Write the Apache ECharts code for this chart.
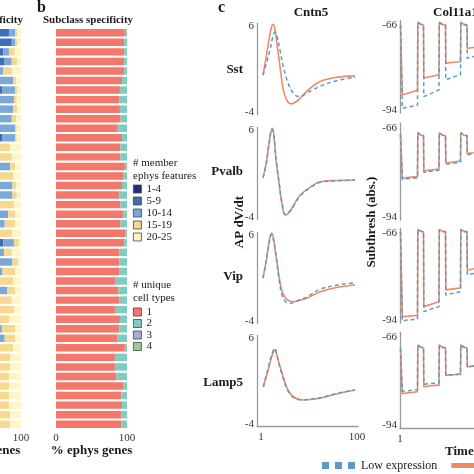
<!DOCTYPE html>
<html>
<head>
<meta charset="utf-8">
<script src="https://cdn.jsdelivr.net/npm/echarts@6/dist/echarts.min.js"></script>
<style>html,body{margin:0;padding:0;background:#fff}#chart{width:474px;height:474px}</style>
</head>
<body>
<div id="chart"></div>
<script>
// genes (rows of panels a and b)
var genes = ['1','2','3','4','5','6','7','8','9','10','11','12','13','14','15','16','17','18','19','20','21',
  '22','23','24','25','26','27','28','29','30','31','32','33','34','35','36','37','38','39','40','41','42'];

// panel a: % of ephys genes per "# member ephys features" bin
var feat1to4 = [5,6,10,15,10,10,10,10,10,10,10,10,5,5,5,5,5,5,5,5,5,5,10,5,5,5,5,5,5,5,5,5,5,5,5,5,5,5,5,5,5,5];
var feat5to9 = [78,81,65,62,30,40,64,45,40,40,40,64,25,25,30,25,30,30,25,30,30,25,65,30,35,30,25,30,25,25,25,30,30,25,25,25,25,25,25,25,25,25];
var feat10to14 = [9,5,8,10,35,39,17.5,35,39,37,41.5,17.5,30,30,49.5,30,53,53,30,47,42,30,15,41,48,39,30,46,30,30,30,38,42,30,30,30,30,30,30,30,30,30];
var feat15to19 = [3,3,8,7.5,12.7,4,3,4,5.5,6,2.5,2.5,24.5,27,7,29,5,6,30,9.5,14.5,28,7,11,8,17.5,29,10.5,27,30,23.5,18.5,14.5,29,24.5,24.5,23.5,23.5,23.5,23.5,24.5,24.5];
var feat20to25 = [5,5,9,5.5,12.3,7,5.5,6,5.5,7,6,6,15.5,13,8.5,11,7,6,10,8.5,8.5,12,3,13,4,8.5,11,8.5,13,10,16.5,8.5,8.5,11,15.5,15.5,16.5,16.5,16.5,16.5,15.5,15.5];

// panel b: % of ephys genes per "# unique cell types"
var type1 = [97,96,96,96,96,93,90,89,90,91,86,93,91,91,97,95,93,89,91,95,91,98,96,89,89,89,83,88,89,83,90,89,86,97,83,83,85,95,92,93,92,92];
var type2 = [3,4,4,4,4,7,10,11,10,9,14,7,9,9,3,5,7,11,9,5,9,2,4,11,11,11,17,12,11,17,10,11,14,3,17,17,15,5,8,7,8,8];
var type3 = [];
var type4 = [];

// panel c, Cntn5: AP dV/dt waveforms [time, value]
var apSstHigh = [[3.2,0.3],[6.5,2.4],[9.5,4.5],[12,5.9],[13.5,6.2],[15.5,5.6],[18,3.5],[20.7,1.3],[24,-1.4],[27.6,-2.6],[31.7,-3.05],[36,-2.9],[41.3,-2.4],[51.6,-1.25],[62,-0.45],[79,0.03],[98,0.2]];
var apSstLow = [[3.2,0.3],[7,1.8],[10.4,3.2],[13,4.6],[15.5,5.3],[17.5,4.8],[20.7,3.2],[24,1.3],[29.2,-0.7],[34.4,-1.8],[39.5,-2.2],[44,-2.1],[48.2,-1.8],[55,-1.4],[62,-1.0],[79,-0.36],[98,0.03]];
var apPvalbHigh = [[3.2,0.5],[6.5,2.2],[9.5,4.6],[11.5,5.9],[12.8,6.2],[14.5,5.3],[16.6,2.6],[19.6,0],[22.7,-2.5],[26.4,-3.8],[31,-3.3],[36,-2.4],[41.3,-1.5],[51.6,-0.6],[62,0.05],[79,0.2],[98,0.25]];
var apPvalbLow = [[3.2,0.5],[6.5,2.1],[9.5,4.5],[11.5,5.8],[12.8,6.1],[14.5,5.2],[16.6,2.7],[19.6,0.1],[22.7,-2.3],[26.4,-3.7],[31,-3.35],[36,-2.5],[41.3,-1.6],[51.6,-0.65],[62,0],[79,0.15],[98,0.25]];
var apVipHigh = [[3.2,1.0],[6.5,3.0],[9.5,5.2],[11,6.0],[12.2,6.2],[14,5.6],[17.3,3.1],[20,1.0],[22.4,-0.4],[26,-1.3],[30,-1.65],[34.4,-1.76],[40,-1.6],[48.2,-1.36],[62,-0.6],[79,-0.1],[98,0.19]];
var apVipLow = [[3.2,1.0],[6.5,3.0],[9.5,5.1],[11,5.9],[12.2,6.1],[14,5.4],[17.3,2.9],[20,0.6],[22.4,-0.8],[26,-1.7],[31,-1.94],[36,-1.8],[42,-1.5],[48.2,-1.2],[62,-0.3],[79,0.15],[98,0.45]];
var apLamp5High = [[3.5,0.34],[6,1.3],[8.6,2.3],[11.5,3.6],[14,4.4],[15.5,4.6],[17,4.2],[18.9,3.4],[21.5,2.4],[24,1.5],[27.6,0.27],[31,-0.4],[34.4,-0.83],[39,-1.1],[44.7,-1.2],[52,-1.15],[62,-1.0],[79,-0.5],[98,-0.05]];
var apLamp5Low = [[3.5,0.3],[6,1.4],[8.6,2.5],[11.5,3.8],[14,4.6],[15.5,4.8],[17,4.3],[18.9,3.3],[21.5,2.2],[24,1.3],[27.6,0.1],[31,-0.5],[34.4,-0.9],[39,-1.15],[44.7,-1.2],[52,-1.1],[62,-0.95],[79,-0.45],[98,-0.05]];

// panel c, Col11a1: subthreshold responses [time, mV]
var subSstHigh = [[1.5,-66],[3,-66],[3.3,-89],[8,-88.6],[18.5,-87.5],[18.8,-65.1],[20,-65.4],[22,-65.8],[24.5,-66],[24.8,-83.5],[32,-83],[40,-82.4],[40.3,-65.1],[41.5,-65.4],[43.5,-65.8],[46.5,-66],[46.8,-78.6],[54,-78.3],[61.5,-78.1],[61.8,-65.1],[63,-65.4],[65,-65.8],[68,-66],[68.3,-73.7],[75,-73.4],[83,-73.1],[83.3,-65.1],[84.5,-65.4],[86.5,-65.8],[89.5,-66],[89.8,-70],[100,-69.7]];
var subSstLow = [[1.5,-66],[3,-66],[3.3,-93.5],[8,-93.1],[18.5,-92.4],[18.8,-65.2],[20,-65.5],[22,-65.9],[24.5,-66.1],[24.8,-89.6],[32,-88.6],[40,-87.4],[40.3,-65.2],[41.5,-65.5],[43.5,-65.9],[46.5,-66.1],[46.8,-84.1],[54,-83.2],[61.5,-82.4],[61.8,-65.2],[63,-65.5],[65,-65.9],[68,-66.1],[68.3,-77],[75,-76.4],[83,-75.9],[83.3,-65.2],[84.5,-65.5],[86.5,-65.9],[89.5,-66.1],[89.8,-72],[100,-71.5]];
var subPvalbHigh = [[1.5,-68],[3,-68.2],[3.3,-81.8],[8,-81.6],[18.5,-81.3],[18.8,-67.5],[20,-67.8],[22,-68.3],[24.5,-68.4],[24.8,-79.5],[32,-79.2],[40,-78.9],[40.3,-67.5],[41.5,-67.8],[43.5,-68.3],[46.5,-68.4],[46.8,-77],[54,-76.7],[61.5,-76.4],[61.8,-67.5],[63,-67.8],[65,-68.3],[68,-68.4],[68.3,-74],[75,-73.8],[83,-73.5],[83.3,-67.5],[84.5,-67.8],[86.5,-68.3],[89.5,-68.4],[89.8,-72],[100,-71.7]];
var subPvalbLow = [[1.5,-68],[3,-68.2],[3.3,-82.2],[8,-82],[18.5,-81.7],[18.8,-67.5],[20,-67.8],[22,-68.3],[24.5,-68.4],[24.8,-79.9],[32,-79.6],[40,-79.3],[40.3,-67.5],[41.5,-67.8],[43.5,-68.3],[46.5,-68.4],[46.8,-77.4],[54,-77.1],[61.5,-76.8],[61.8,-67.5],[63,-67.8],[65,-68.3],[68,-68.4],[68.3,-74.4],[75,-74.2],[83,-73.9],[83.3,-67.5],[84.5,-67.8],[86.5,-68.3],[89.5,-68.4],[89.8,-72.4],[100,-72.1]];
var subVipHigh = [[1.5,-65.5],[3,-65.6],[3.3,-93],[8,-92.8],[18.5,-92.5],[18.8,-64.9],[20,-65.1],[22,-65.5],[24.5,-65.6],[24.8,-89.7],[32,-88.9],[40,-88.1],[40.3,-64.9],[41.5,-65.1],[43.5,-65.5],[46.5,-65.6],[46.8,-84.3],[54,-84],[61.5,-83.7],[61.8,-64.9],[63,-65.1],[65,-65.5],[68,-65.6],[68.3,-78],[75,-77.5],[83,-77],[83.3,-64.9],[84.5,-65.1],[86.5,-65.5],[89.5,-65.6],[89.8,-74],[100,-73.5]];
var subVipLow = [[1.5,-65.5],[3,-65.6],[3.3,-94.3],[8,-94],[18.5,-93.8],[18.8,-64.9],[20,-65.1],[22,-65.5],[24.5,-65.6],[24.8,-91.3],[32,-90.5],[40,-89.7],[40.3,-64.9],[41.5,-65.1],[43.5,-65.5],[46.5,-65.6],[46.8,-86],[54,-85.4],[61.5,-84.9],[61.8,-64.9],[63,-65.1],[65,-65.5],[68,-65.6],[68.3,-79.5],[75,-79],[83,-78.5],[83.3,-64.9],[84.5,-65.1],[86.5,-65.5],[89.5,-65.6],[89.8,-75.5],[100,-75]];
var subLamp5High = [[1.5,-69.5],[3,-69.6],[3.3,-84],[8,-83.8],[18.5,-83.4],[18.8,-68.5],[20,-68.8],[22,-69.3],[24.5,-69.4],[24.8,-81.8],[32,-81.5],[40,-81.3],[40.3,-68.5],[41.5,-68.8],[43.5,-69.3],[46.5,-69.4],[46.8,-78.2],[54,-78],[61.5,-77.8],[61.8,-68.5],[63,-68.8],[65,-69.3],[68,-69.4],[68.3,-75.5],[75,-75.2],[83,-75],[83.3,-68.5],[84.5,-68.8],[86.5,-69.3],[89.5,-69.4],[89.8,-73.5],[100,-73.2]];
var subLamp5Low = [[1.5,-69.5],[3,-69.6],[3.3,-83.3],[8,-83.1],[18.5,-82.8],[18.8,-68.5],[20,-68.8],[22,-69.3],[24.5,-69.4],[24.8,-81],[32,-80.8],[40,-80.6],[40.3,-68.5],[41.5,-68.8],[43.5,-69.3],[46.5,-69.4],[46.8,-78.2],[54,-78],[61.5,-77.8],[61.8,-68.5],[63,-68.8],[65,-69.3],[68,-69.4],[68.3,-75.5],[75,-75.2],[83,-75],[83.3,-68.5],[84.5,-68.8],[86.5,-69.3],[89.5,-69.4],[89.8,-73.5],[100,-73.2]];

var apTicks = [-4, 6];
var subTicks = [-94, -66];
var timeTicks = [1, 100];

(function () {
  'use strict';
  var serif = 'Liberation Serif';
  var orange = '#ef8a62', blue = '#5b9bc8', axisGrey = '#9a9a9a', ink = '#1a1a1a';
  var chart = echarts.init(document.getElementById('chart'));

  var apTops = [23.4, 127.4, 232.4, 335.4], apHeights = [91.2, 92.2, 91.2, 91.2];
  var subTops = [20.4, 123.2, 228.3, 332.3], subHeights = [92.6, 97, 94.8, 95.9];
  var apData = [[apSstHigh, apSstLow], [apPvalbHigh, apPvalbLow], [apVipHigh, apVipLow], [apLamp5High, apLamp5Low]];
  var subData = [[subSstHigh, subSstLow], [subPvalbHigh, subPvalbLow], [subVipHigh, subVipLow], [subLamp5High, subLamp5Low]];

  var grids = [
    {left: -50, top: 28, width: 71, height: 401, outerBoundsMode: 'none'},
    {left: 56, top: 28, width: 71, height: 401, outerBoundsMode: 'none'}
  ];
  var barX = function (gi, namePad) {
    return {
      type: 'value', gridIndex: gi, min: 0, max: 100, interval: 100,
      axisLine: {show: false}, axisTick: {show: false}, splitLine: {show: false},
      axisLabel: {fontFamily: serif, fontSize: 11, color: '#333', margin: 4},
      name: '% ephys genes', nameLocation: 'middle', nameGap: 15, nameMoveOverlap: false,
      nameTextStyle: {fontFamily: serif, fontSize: 13, fontWeight: 'bold', color: ink, padding: namePad}
    };
  };
  var barY = function (gi) {
    return {type: 'category', gridIndex: gi, data: genes, inverse: true, show: false};
  };
  var xAxes = [barX(0, [0, 12, 0, 0]), barX(1, 0)];
  var yAxes = [barY(0), barY(1)];
  var series = [];

  function bar(gi, name, data, color) {
    series.push({
      type: 'bar', name: name, stack: 'p' + gi, xAxisIndex: gi, yAxisIndex: gi,
      data: data, barCategoryGap: '22%', itemStyle: {color: color}, silent: true
    });
  }
  bar(0, '1-4', feat1to4, '#1f2f86');
  bar(0, '5-9', feat5to9, '#3d6db5');
  bar(0, '10-14', feat10to14, '#7aa9d8');
  bar(0, '15-19', feat15to19, '#f6d88e');
  bar(0, '20-25', feat20to25, '#fdf6c8');
  bar(1, '1', type1, '#f4776c');
  bar(1, '2', type2, '#7fcdc0');
  bar(1, '3', type3, '#aaaad8');
  bar(1, '4', type4, '#93cf8e');

  function lineAxes(left, width, top, height, ymin, ymax, yTicks, xmin, xmax, last) {
    var gi = grids.length;
    grids.push({left: left, top: top, width: width, height: height, outerBoundsMode: 'none'});
    xAxes.push({
      type: 'value', gridIndex: gi, min: xmin, max: xmax, show: last,
      axisLine: {show: true, onZero: false, lineStyle: {color: axisGrey, width: 1.3}},
      axisTick: {show: false}, splitLine: {show: false},
      axisLabel: {customValues: timeTicks, fontFamily: serif, fontSize: 11, color: '#333', margin: 5}
    });
    yAxes.push({
      type: 'value', gridIndex: gi, min: ymin, max: ymax,
      axisLine: {show: true, onZero: false, lineStyle: {color: axisGrey, width: 1.3}},
      axisTick: {show: false}, splitLine: {show: false},
      axisLabel: {customValues: yTicks, fontFamily: serif, fontSize: 11, color: '#333', margin: 3}
    });
    return gi;
  }
  function trace(gi, data, low, smooth) {
    series.push({
      type: 'line', name: low ? 'Low expression' : 'High expression',
      xAxisIndex: gi, yAxisIndex: gi, data: data, smooth: smooth,
      symbol: 'none', showSymbol: false, silent: true, z: low ? 4 : 3,
      lineStyle: low ? {color: blue, width: 1.5, type: [4, 3]} : {color: orange, width: 1.6}
    });
  }

  for (var r = 0; r < 4; r++) {
    var g = lineAxes(257, 101, apTops[r], apHeights[r], -4.3, 6.3, apTicks, -3, 101, r === 3);
    trace(g, apData[r][0], false, 0.4);
    trace(g, apData[r][1], true, 0.4);
  }
  for (r = 0; r < 4; r++) {
    var h = lineAxes(400, 100, subTops[r], subHeights[r], -95, -64.5, subTicks, 1, 101, r === 3);
    trace(h, subData[r][0], false, false);
    trace(h, subData[r][1], true, false);
  }

  function txt(x, y, text, size, bold, align, rot) {
    return {
      type: 'text', x: x, y: y, rotation: rot || 0, silent: true,
      style: {
        text: text, fill: ink, fontFamily: serif, fontSize: size,
        fontWeight: bold ? 'bold' : 'normal',
        align: align || 'left', verticalAlign: 'middle',
        textAlign: align || 'left', textVerticalAlign: 'middle'
      }
    };
  }

  var legendText = {fontFamily: serif, fontSize: 11, color: ink};
  var option = {
    animation: false,
    backgroundColor: '#fff',
    textStyle: {fontFamily: serif},
    grid: grids,
    xAxis: xAxes,
    yAxis: yAxes,
    legend: [
      {
        data: ['1-4', '5-9', '10-14', '15-19', '20-25'], orient: 'vertical', left: 133, top: 183.5,
        padding: 0, itemWidth: 8, itemHeight: 8, itemGap: 1, icon: 'rect', selectedMode: false,
        itemStyle: {borderColor: '#444', borderWidth: 0.8}, textStyle: legendText
      },
      {
        data: ['1', '2', '3', '4'], orient: 'vertical', left: 133, top: 306.5,
        padding: 0, itemWidth: 8, itemHeight: 8, itemGap: 0.5, icon: 'rect', selectedMode: false,
        itemStyle: {borderColor: '#444', borderWidth: 0.8}, textStyle: legendText
      },
      {
        data: [
          {name: 'Low expression', icon: 'path://M0,0h7v7h-7z M13,0h7v7h-7z M26,0h7v7h-7z',
            itemStyle: {color: blue, borderWidth: 0}},
          {name: 'High expression', icon: 'path://M0,1h35v5h-35z M0,0h0.01v0.01h-0.01z M0,7h0.01v0.01h-0.01z',
            itemStyle: {color: orange, borderWidth: 0}}
        ],
        orient: 'horizontal', left: 322, top: 459.5, width: 400, padding: 0, itemWidth: 35, itemHeight: 7,
        itemGap: 14, selectedMode: false, textStyle: {fontFamily: serif, fontSize: 12, color: ink}
      }
    ],
    graphic: [
      txt(23, 20, 'Feature specificity', 11, true, 'right'),
      txt(37, 8, 'b', 16, true),
      txt(88, 20, 'Subclass specificity', 11, true, 'center'),
      txt(133, 163, '# member', 11, false),
      txt(133, 176, 'ephys features', 11, false),
      txt(133, 285, '# unique', 11, false),
      txt(133, 298, 'cell types', 11, false),
      txt(218, 8, 'c', 16, true),
      txt(311, 13, 'Cntn5', 13, true, 'center'),
      txt(433, 13, 'Col11a1', 13, true),
      txt(240, 222, 'AP dV/dt', 13, true, 'center', Math.PI / 2),
      txt(372, 222, 'Subthresh (abs.)', 13, true, 'center', Math.PI / 2),
      txt(243, 70, 'Sst', 13, true, 'right'),
      txt(243, 172, 'Pvalb', 13, true, 'right'),
      txt(243, 277, 'Vip', 13, true, 'right'),
      txt(243, 383, 'Lamp5', 13, true, 'right'),
      txt(445, 452, 'Time', 13, true)
    ],
    series: series
  };
  chart.setOption(option);
})();
</script>
</body>
</html>
